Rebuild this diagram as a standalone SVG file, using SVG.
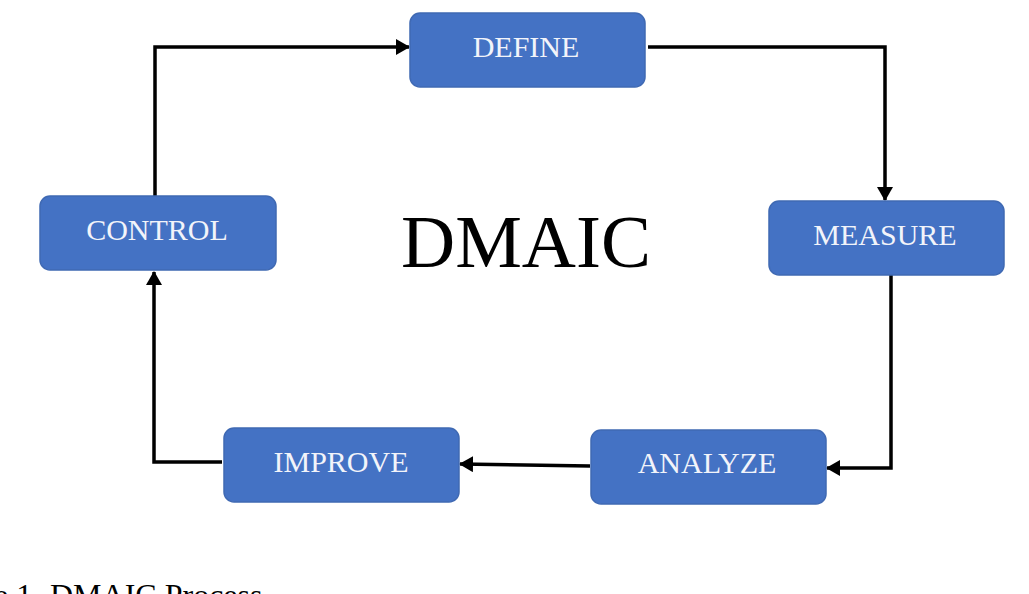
<svg xmlns="http://www.w3.org/2000/svg" width="1029" height="594" viewBox="0 0 1029 594">
<style>
.box{fill:#4472C4;stroke:#3F69B3;stroke-width:1.5}
.lbl{font-family:"Liberation Serif","Times New Roman",serif;font-size:30px;fill:#F2F4FA;text-anchor:middle}
.con{fill:none;stroke:#000;stroke-width:3.5;stroke-linejoin:miter}
.title{font-family:"Liberation Serif","Times New Roman",serif;fill:#000}
</style>
<defs>
<marker id="ah" viewBox="0 0 14 16" refX="13" refY="8" markerWidth="14" markerHeight="16" markerUnits="userSpaceOnUse" orient="auto">
<path d="M0,0 L14,8 L0,16 Z" fill="#000"/>
</marker>
</defs>
<rect width="1029" height="594" fill="#fff"/>
<g id="connectors">
<path class="con" d="M155,196 L155,47 L409,47" marker-end="url(#ah)"/>
<path class="con" d="M648,47 L885,47 L885,200" marker-end="url(#ah)"/>
<path class="con" d="M891,275 L891,468 L827,468" marker-end="url(#ah)"/>
<path class="con" d="M590,466 L460,464" marker-end="url(#ah)"/>
<path class="con" d="M222,462 L154,462 L154,272" marker-end="url(#ah)"/>
</g>
<g id="define"><rect class="box" x="410" y="13" width="235" height="74" rx="10"/><text class="lbl" x="526" y="57">DEFINE</text></g>
<g id="measure"><rect class="box" x="769" y="201" width="235" height="74" rx="10"/><text class="lbl" x="885" y="245">MEASURE</text></g>
<g id="analyze"><rect class="box" x="591" y="430" width="235" height="74" rx="10"/><text class="lbl" x="707" y="473">ANALYZE</text></g>
<g id="improve"><rect class="box" x="224" y="428" width="235" height="74" rx="10"/><text class="lbl" x="341" y="472">IMPROVE</text></g>
<g id="control"><rect class="box" x="40" y="196" width="236" height="74" rx="10"/><text class="lbl" x="157" y="240">CONTROL</text></g>
<text class="title" x="526" y="267" font-size="75" text-anchor="middle">DMAIC</text>
<text class="title" font-size="32" y="606"><tspan x="-6">e 1.</tspan><tspan x="50">DMAIC Process</tspan></text>
</svg>
